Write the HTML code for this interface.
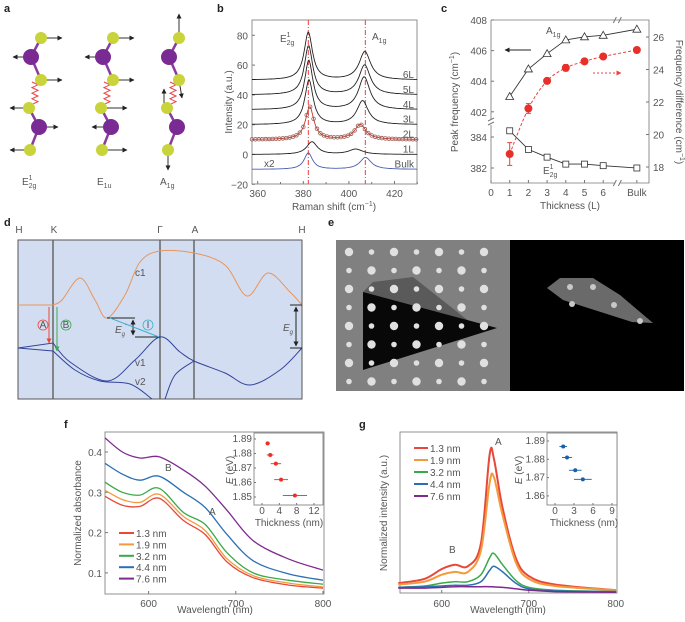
<!DOCTYPE html>
<html><head><meta charset="utf-8"><style>
html,body{margin:0;padding:0;background:#fff;}
svg{display:block;font-family:"Liberation Sans",sans-serif;}
.t{fill:#555;font-size:10px;}
.pl{font-weight:bold;font-size:11px;fill:#222;}
</style></head><body>
<svg id="fig" width="685" height="622" viewBox="0 0 685 622" xmlns="http://www.w3.org/2000/svg">
<text class="pl" x="4" y="12">a</text>
<text class="pl" x="217" y="12">b</text>
<text class="pl" x="441" y="12">c</text>
<text class="pl" x="4" y="226">d</text>
<text class="pl" x="328" y="226">e</text>
<text class="pl" x="64" y="428">f</text>
<text class="pl" x="359" y="428">g</text>
<g id="pa"></g>
<g id="pb"></g>
<g id="pc"></g>
<g id="pd"></g>
<g id="pe"></g>
<g id="pf"></g>
<g id="pg"></g>
</svg>
<script>
// ---------- data ----------
// panel b
const bLayers = ['Bulk','1L','2L','3L','4L','5L','6L'];
const bOffsets = [-10,0,10,20,30,40,50];
const bEPos = [382.2,383.8,382.8,382.5,382.4,382.3,382.2];
const bEAmp = [11,8.5,22,30,33,33,32];
const bAPos = [407.3,403,405,406,406.7,406.9,407];
const bAAmp = [8,3.5,10,16,22,20,19];
// panel c
const cLabels = ['0','1','2','3','4','5','6','Bulk'];
const cX = [1,2,3,4,5,6,7.8];
const cA1g = [403,404.8,405.8,406.7,406.9,407,407.4];
const cE2g = [384.4,383.2,382.7,382.25,382.25,382.15,382.0];
const cDiff = [18.8,21.6,23.3,24.1,24.5,24.8,25.2];
const cDiffErr = [0.7,0.3,0,0.2,0,0,0];
// panel f
const fWl = [550,570,590,612,640,665,690,720,760,800];
const fNames = ['1.3 nm','1.9 nm','3.2 nm','4.4 nm','7.6 nm'];
const fColors = ['#e8473a','#f39a3d','#3aa94a','#2a6fb5','#7d2a8e'];
const fAbs = [
 [0.29,0.268,0.265,0.285,0.23,0.195,0.127,0.088,0.07,0.062],
 [0.305,0.282,0.275,0.295,0.24,0.205,0.135,0.093,0.075,0.065],
 [0.325,0.300,0.293,0.31,0.25,0.22,0.15,0.10,0.082,0.072],
 [0.372,0.345,0.33,0.34,0.30,0.262,0.195,0.13,0.098,0.082],
 [0.435,0.40,0.385,0.388,0.355,0.315,0.255,0.18,0.135,0.107]];
const fThick = [1.3,1.9,3.2,4.4,7.6];
const fE = [1.887,1.879,1.873,1.862,1.851];
const fErr = [0.5,0.8,1.2,1.6,2.8];
// panel g
const gWl = [550,580,600,615,630,645,655,660,670,685,700,730,800];
const gPL = [
 [0.07,0.10,0.17,0.20,0.19,0.35,0.98,0.95,0.60,0.25,0.12,0.06,0.02],
 [0.06,0.08,0.13,0.15,0.15,0.30,0.78,0.82,0.55,0.22,0.10,0.05,0.02],
 [0.04,0.05,0.07,0.08,0.08,0.13,0.25,0.28,0.20,0.09,0.04,0.02,0.01],
 [0.04,0.045,0.05,0.055,0.055,0.08,0.16,0.19,0.15,0.07,0.03,0.015,0.01],
 [0.035,0.035,0.04,0.045,0.045,0.045,0.045,0.043,0.04,0.03,0.02,0.01,0.005]];
const gThick = [1.3,1.9,3.2,4.4];
const gE = [1.887,1.881,1.874,1.869];
const gErr = [0.6,0.8,1.0,1.4];

// ---------- helpers ----------
const NS='http://www.w3.org/2000/svg';
function mk(tag,attrs,parent){const e=document.createElementNS(NS,tag);for(const k in attrs)e.setAttribute(k,attrs[k]);parent.appendChild(e);return e;}
function txt(s,x,y,attrs,parent){const e=mk('text',Object.assign({x:x,y:y,class:'t'},attrs||{}),parent);e.textContent=s;return e;}
function smooth(p){let d='M'+p[0][0].toFixed(1)+','+p[0][1].toFixed(1);for(let i=0;i<p.length-1;i++){const p0=p[i-1]||p[i],p1=p[i],p2=p[i+1],p3=p[i+2]||p2;const c1=[p1[0]+(p2[0]-p0[0])/6,p1[1]+(p2[1]-p0[1])/6],c2=[p2[0]-(p3[0]-p1[0])/6,p2[1]-(p3[1]-p1[1])/6];d+='C'+c1.map(v=>v.toFixed(1))+' '+c2.map(v=>v.toFixed(1))+' '+p2[0].toFixed(1)+','+p2[1].toFixed(1);}return d;}
function poly(p){return 'M'+p.map(q=>q[0].toFixed(1)+','+q[1].toFixed(1)).join('L');}
const G=id=>document.getElementById(id);
const defs=mk('defs',{},G('fig'));
const mkr=mk('marker',{id:'ar',viewBox:'0 0 10 10',refX:9,refY:5,markerWidth:5,markerHeight:5,orient:'auto-start-reverse'},defs);
mk('path',{d:'M0,0L10,5L0,10z',fill:'#222'},mkr);
function marker(id,col){const m=mk('marker',{id:id,viewBox:'0 0 10 10',refX:9,refY:5,markerWidth:5,markerHeight:5,orient:'auto-start-reverse'},defs);mk('path',{d:'M0,0L10,5L0,10z',fill:col},m);}
marker('arR','#e8473a');marker('arG','#3aa94a');marker('arRd','#e8473a');

// ---------- panel a ----------
(function(){
 const g=G('pa');
 const base=[[41,38,'y'],[31,57,'p'],[41,80,'y'],[29,108,'y'],[39,127,'p'],[30,150,'y']];
 const offs=[0,72,138];
 const arrows=[
  [[62,0],[13,1],[62,2],[10,3],[58,4],[10,5]],
  [[62,0],[13,1],[62,2],[55,3],[20,4],[55,5]]];
 offs.forEach((o,c)=>{
  const col=mk('g',{},g);
  
  
  for(let i=0;i<base.length-1;i++){ if(i===2) continue;
   mk('line',{x1:base[i][0]+o,y1:base[i][1],x2:base[i+1][0]+o,y2:base[i+1][1],stroke:'#8a3aa0','stroke-width':2.5},col);}
  const sp=[];for(let k=0;k<=8;k++){sp.push([35+o+(k%2?3:-3),82+k*2.8]);}
  mk('path',{d:poly(sp),stroke:'#e84040',fill:'none','stroke-width':1},col);
  if(c<2){arrows[c].forEach(a=>{const b=base[a[1]];mk('line',{x1:b[0]+o,y1:b[1],x2:a[0]+o,y2:b[1],stroke:'#333','stroke-width':1,'marker-end':'url(#ar)'},col);});}
  else{
   mk('line',{x1:41+o,y1:38,x2:41+o,y2:14,stroke:'#333','stroke-width':1,'marker-end':'url(#ar)'},col);
   mk('line',{x1:41+o,y1:80,x2:44+o,y2:98,stroke:'#333','stroke-width':1,'marker-end':'url(#ar)'},col);
   mk('line',{x1:26+o,y1:108,x2:26+o,y2:89,stroke:'#333','stroke-width':1,'marker-end':'url(#ar)'},col);
   mk('line',{x1:30+o,y1:150,x2:30+o,y2:170,stroke:'#333','stroke-width':1,'marker-end':'url(#ar)'},col);
  }
  base.forEach(b=>{
   const r=b[2]==='p'?8:6;
   const at=mk('circle',{cx:b[0]+o,cy:b[1],r:r,fill:b[2]==='p'?'#7a2a93':'#c8d43a'},col);
   
   
  });
 });
 const l1=txt('E',22,185,{'font-size':11},g);l1.innerHTML='E<tspan dy="-5" font-size="7">1</tspan><tspan dy="8" dx="-4" font-size="7">2g</tspan>';
 
 const l2=txt('',97,185,{'font-size':11},g);l2.innerHTML='E<tspan dy="3" font-size="7">1u</tspan>';
 
 const l3=txt('',160,185,{'font-size':11},g);l3.innerHTML='A<tspan dy="3" font-size="7">1g</tspan>';
 
})();

// ---------- panel b ----------
(function(){
 const g=G('pb');
 const L=252,R=417,T=20,B=184;
 const xb=v=>L+(v-357.5)*2.28, yb=v=>154.5-v*1.49;
 mk('rect',{x:L,y:T,width:R-L,height:B-T,fill:'none',stroke:'#777','stroke-width':0.8},g);
 [-20,0,20,40,60,80].forEach(v=>{
  mk('line',{x1:L,x2:L+3,y1:yb(v),y2:yb(v),stroke:'#777'},g);
  const t=txt(v<0?'\u221220':String(v),L-4,yb(v)+4,{'text-anchor':'end','font-size':11},g);
  
 });
 [360,380,400,420].forEach(v=>{
  mk('line',{x1:xb(v),x2:xb(v),y1:B,y2:B-3,stroke:'#777'},g);
  const t=txt(String(v),xb(v),B+13,{'text-anchor':'middle','font-size':11},g);
  
 });
 [370,390,410,430].forEach(v=>mk('line',{x1:xb(v),x2:xb(v),y1:B,y2:B-2,stroke:'#777'},g));
 const xt=txt('',334,210,{'text-anchor':'middle','font-size':10},g);xt.innerHTML='Raman shift (cm<tspan dy="-4" font-size="7">\u22121</tspan><tspan dy="4">)</tspan>';
 
 const yt=txt('Intensity (a.u.)',0,0,{'text-anchor':'middle','font-size':10,transform:'translate(232,102) rotate(-90)'},g);
 
 [382.2,407.2].forEach(v=>{const d=mk('line',{x1:xb(v),x2:xb(v),y1:T,y2:B,stroke:'#e84040','stroke-width':1,'stroke-dasharray':'5,2,1,2'},g);
  });
 const lor=(v,p,w)=>1/(1+((v-p)/w)**2);
 bLayers.forEach((nm,i)=>{
  const pts=[];
  for(let v=357.5;v<=430;v+=0.5){const y=bOffsets[i]+bEAmp[i]*lor(v,bEPos[i],i===1?2.8:2.2)+bAAmp[i]*lor(v,bAPos[i],i===1?3.8:3.0);pts.push([xb(v),yb(y)]);}
  const col=nm==='Bulk'?'#4a5fb0':(nm==='2L'?'#c0392b':'#222');
  const p=mk('path',{d:poly(pts),fill:'none',stroke:col,'stroke-width':0.9},g);
  
  if(nm==='2L'){for(let k=0;k<pts.length;k+=3){const c=mk('circle',{cx:pts[k][0],cy:pts[k][1],r:1.8,fill:'none',stroke:'#9a5a50','stroke-width':0.8},g);
   }}
  const lt=txt(nm,414,yb(bOffsets[i])-2,{'text-anchor':'end','font-size':10,fill:nm==='Bulk'?'#4a5fb0':'#555'},g);
  
 });
 const x2=txt('x2',264,167,{'font-size':10,fill:'#4a5fb0'},g);
 const pe=txt('',280,42,{'font-size':11},g);pe.innerHTML='E<tspan dy="-5" font-size="7">1</tspan><tspan dy="8" dx="-4" font-size="7">2g</tspan>';
 
 const pa=txt('',372,40,{'font-size':11},g);pa.innerHTML='A<tspan dy="3" font-size="7">1g</tspan>';
 
})();

// ---------- panel c ----------
(function(){
 const g=G('pc');
 const L=491,R=649,T=20,B=183;
 const xc=v=>L+v*18.7;
 const yU=v=>20+(408-v)*15.3, yLo=v=>168-(v-382)*15.5;
 const yl=v=>v>=395?yU(v):yLo(v);
 const yr=v=>37+(26-v)*16.25;
 mk('path',{d:`M${L},${T}H${R}V${B}H${L}V125M${L},119V${T}`,fill:'none',stroke:'#777','stroke-width':0.8},g);
 mk('path',{d:`M${L-3},121l6,-3M${L-3},125l6,-3`,stroke:'#777'},g);
 mk('rect',{x:xc(6.65),y:B-3,width:5,height:6,fill:'#fff'},g);
 mk('path',{d:`M${xc(6.65)-2},${B+3}l3,-6M${xc(6.65)+3},${B+3}l3,-6M${xc(6.65)-2},${T+3}l3,-6M${xc(6.65)+3},${T+3}l3,-6`,stroke:'#777'},g);
 [402,404,406,408,382,384].forEach(v=>{mk('line',{x1:L,x2:L+3,y1:yl(v),y2:yl(v),stroke:'#777'},g);
  const t=txt(String(v),L-4,yl(v)+4,{'text-anchor':'end','font-size':11},g);});
 [18,20,22,24,26].forEach(v=>{mk('line',{x1:R,x2:R-3,y1:yr(v),y2:yr(v),stroke:'#777'},g);
  const t=txt(String(v),R+4,yr(v)+4,{'font-size':11},g);});
 const xpos=[0,1,2,3,4,5,6,7.8];
 cLabels.forEach((s,i)=>{mk('line',{x1:xc(xpos[i]),x2:xc(xpos[i]),y1:B,y2:B-3,stroke:'#777'},g);
  const t=txt(s,xc(xpos[i]),B+13,{'text-anchor':'middle','font-size':11},g);});
 const xt=txt('Thickness (L)',570,209,{'text-anchor':'middle','font-size':10},g);
 const yt=txt('',0,0,{'text-anchor':'middle','font-size':10,transform:'translate(458,102) rotate(-90)'},g);yt.innerHTML='Peak frequency (cm<tspan dy="-4" font-size="7">\u22121</tspan><tspan dy="4">)</tspan>';
 
 const yt2=txt('',0,0,{'text-anchor':'middle','font-size':10,transform:'translate(676,102) rotate(90)'},g);yt2.innerHTML='Frequency difference (cm<tspan dy="-4" font-size="7">\u22121</tspan><tspan dy="4">)</tspan>';
 
 const pA=cX.map((x,i)=>[xc(x),yl(cA1g[i])]), pE=cX.map((x,i)=>[xc(x),yl(cE2g[i])]), pD=cX.map((x,i)=>[xc(x),yr(cDiff[i])]);
 const la=mk('path',{d:poly(pA),fill:'none',stroke:'#333','stroke-width':0.9},g);
 const le=mk('path',{d:poly(pE),fill:'none',stroke:'#333','stroke-width':0.9},g);
 const ld=mk('path',{d:smooth(pD),fill:'none',stroke:'#e84040','stroke-width':1,'stroke-dasharray':'3,2'},g);
 pA.forEach(p=>{const m=mk('path',{d:`M${p[0]},${p[1]-4}l4,7h-8z`,fill:'#fff',stroke:'#333','stroke-width':0.8},g);});
 pE.forEach(p=>{const m=mk('rect',{x:p[0]-3,y:p[1]-3,width:6,height:6,fill:'#fff',stroke:'#333','stroke-width':0.8},g);});
 pD.forEach((p,i)=>{if(cDiffErr[i]>0){const e=mk('path',{d:`M${p[0]},${yr(cDiff[i]+cDiffErr[i])}V${yr(cDiff[i]-cDiffErr[i])}M${p[0]-2.5},${yr(cDiff[i]+cDiffErr[i])}h5M${p[0]-2.5},${yr(cDiff[i]-cDiffErr[i])}h5`,stroke:'#e84040'},g);}
  const m=mk('circle',{cx:p[0],cy:p[1],r:4,fill:'#e8302a'},g);});
 mk('line',{x1:531,y1:50,x2:505,y2:50,stroke:'#222','stroke-width':1,'marker-end':'url(#ar)'},g);
 mk('line',{x1:593,y1:73,x2:621,y2:73,stroke:'#e84040','stroke-width':1,'stroke-dasharray':'2,2','marker-end':'url(#arRd)'},g);
 const a=txt('',546,34,{'font-size':11},g);a.innerHTML='A<tspan dy="3" font-size="7">1g</tspan>';
 const e=txt('',543,174,{'font-size':11},g);e.innerHTML='E<tspan dy="-5" font-size="7">1</tspan><tspan dy="8" dx="-4" font-size="7">2g</tspan>';
})();

// ---------- panel d ----------
(function(){
 const g=G('pd');
 mk('rect',{x:18,y:240,width:284,height:159,fill:'#d3ddf1',stroke:'#555','stroke-width':1},g);
 [53,160,194].forEach(x=>mk('line',{x1:x,x2:x,y1:240,y2:399,stroke:'#666','stroke-width':1.5},g));
 [['H',19],['K',54],['\u0393',160],['A',195],['H',302]].forEach(k=>{const t=txt(k[0],k[1],233,{'text-anchor':'middle','font-size':10},g);});
 const c1=mk('path',{d:'M18,305H53'+smooth([[53,305],[62,300],[80,278],[95,300],[107,318],[125,295],[140,262],[160,251],[194,253],[225,265],[247,296],[268,273],[290,292],[302,305]]).replace(/^M[\d.,]+/,''),fill:'none',stroke:'#e8955a','stroke-width':1},g);
 
 const v1=mk('path',{d:'M18,348L53,343'+smooth([[53,343],[70,362],[107,381],[135,360],[160,337],[180,352],[194,361],[225,373],[250,385],[280,370],[302,348]]).replace(/^M[\d.,]+/,''),fill:'none',stroke:'#334499','stroke-width':1},g);
 
 const v2=mk('path',{d:'M18,348L53,351'+smooth([[53,351],[75,370],[100,381],[130,384],[152,399]]).replace(/^M[\d.,]+/,'')+'M165,399'+smooth([[165,399],[175,375],[194,361]]).replace(/^M[\d.,]+/,''),fill:'none',stroke:'#334499','stroke-width':1},g);
 
 mk('path',{d:'M107,318H135M135,337H160',stroke:'#222',fill:'none'},g);
 mk('line',{x1:133,y1:320,x2:133,y2:335,stroke:'#222','marker-end':'url(#ar)','marker-start':'url(#ar)'},g);
 mk('line',{x1:110,y1:318,x2:159,y2:337,stroke:'#3ab0d0','stroke-width':1},g);
 mk('path',{d:'M290,305H302M290,348H302',stroke:'#222'},g);
 mk('line',{x1:296,y1:307,x2:296,y2:346,stroke:'#222','marker-end':'url(#ar)','marker-start':'url(#ar)'},g);
 mk('line',{x1:49,y1:307,x2:49,y2:343,stroke:'#e8473a','marker-end':'url(#arR)'},g);
 mk('line',{x1:57,y1:307,x2:57,y2:351,stroke:'#3aa94a','marker-end':'url(#arG)'},g);
 [['A',43,'#e8473a'],['B',66,'#3aa94a'],['I',148,'#3ab0d0']].forEach(c=>{
  const k=mk('circle',{cx:c[1],cy:325,r:5,fill:'none',stroke:c[2],'stroke-width':0.8},g);
  txt(c[0],c[1],328,{'text-anchor':'middle','font-size':7,fill:c[2]},g);});
 const e1=txt('',115,333,{'font-size':10,'font-style':'italic'},g);e1.innerHTML='E<tspan dy="3" font-size="6">g</tspan><tspan dy="-8" font-size="6">\u2032</tspan>';
 const e2=txt('',283,331,{'font-size':10,'font-style':'italic'},g);e2.innerHTML='E<tspan dy="3" font-size="6">g</tspan>';
 [['c1',135,276],['v1',135,366],['v2',135,385]].forEach(l=>{const t=txt(l[0],l[1],l[2],{'font-size':9},g);});
})();

// ---------- panel e ----------
(function(){
 const g=G('pe');
 mk('rect',{x:336,y:240,width:174,height:151,fill:'#808080'},g);
 mk('polygon',{points:'373,282 413,277 470,322 420,316 363,292',fill:'#5a5a5a'},g);
 mk('polygon',{points:'363,292 497,328 363,370',fill:'#080808'},g);
 for(let r=0;r<8;r++)for(let c=0;c<7;c++){
  const x=349+c*22.5, y=252+r*18.5, big=(r+c)%2===0;
  const d=mk('circle',{cx:x,cy:y,r:big?4.2:2.8,fill:'#e0e0e0'},g);
  }
 mk('rect',{x:510,y:240,width:174,height:151,fill:'#000'},g);
 const f=mk('polygon',{points:'547,288 560,278 593,278 620,295 653,323 632,322 563,300',fill:'#6a6a6a'},g);
 
 [[570,287],[593,287],[614,305],[572,304],[640,321]].forEach(p=>mk('circle',{cx:p[0],cy:p[1],r:3,fill:'#c8c8c8'},g));
})();

// ---------- panel f ----------
(function(){
 const g=G('pf');
 const L=105,R=324,T=432,B=594;
 const xf=v=>L+(v-550)*0.872, yf=v=>452-(v-0.4)*403;
 mk('rect',{x:L,y:T,width:R-L,height:B-T,fill:'none',stroke:'#777','stroke-width':0.8},g);
 [0.1,0.2,0.3,0.4].forEach(v=>{mk('line',{x1:L,x2:L+3,y1:yf(v),y2:yf(v),stroke:'#777'},g);
  const t=txt(String(v),L-3,yf(v)+4,{'text-anchor':'end','font-size':10},g);});
 [600,700,800].forEach(v=>{mk('line',{x1:xf(v),x2:xf(v),y1:B,y2:B-3,stroke:'#777'},g);
  const t=txt(String(v),xf(v),B+13,{'text-anchor':'middle','font-size':10},g);});
 const xt=txt('Wavelength (nm)',215,613,{'text-anchor':'middle','font-size':10},g);
 const yt=txt('Normalized absorbance',0,0,{'text-anchor':'middle','font-size':10,transform:'translate(81,513) rotate(-90)'},g);
 fAbs.forEach((s,i)=>{const p=mk('path',{d:smooth(fWl.map((w,j)=>[xf(w),yf(s[j])])),fill:'none',stroke:fColors[i],'stroke-width':1.3},g);
  
  mk('line',{x1:119,x2:134,y1:533+i*11.4,y2:533+i*11.4,stroke:fColors[i],'stroke-width':2},g);
  const t=txt(fNames[i],136,537+i*11.4,{'font-size':9.5},g);});
 txt('B',165,471,{'font-size':10},g);txt('A',209,515,{'font-size':10},g);
 const iL=254,iR=323,iT=433,iB=505;
 const xi=v=>262+v*4.33, yi=v=>439+(1.89-v)*1450;
 mk('rect',{x:iL,y:iT,width:iR-iL,height:iB-iT,fill:'#fff',stroke:'#777','stroke-width':0.8},g);
 [1.85,1.86,1.87,1.88,1.89].forEach(v=>{mk('line',{x1:iL,x2:iL+2,y1:yi(v),y2:yi(v),stroke:'#777'},g);
  const t=txt(v.toFixed(2),iL-2,yi(v)+3,{'text-anchor':'end','font-size':8.5},g);});
 [0,4,8,12].forEach(v=>{mk('line',{x1:xi(v),x2:xi(v),y1:iB,y2:iB-2,stroke:'#777'},g);
  const t=txt(String(v),xi(v),iB+9,{'text-anchor':'middle','font-size':8.5},g);});
 const it=txt('Thickness (nm)',289,iB+21,{'text-anchor':'middle','font-size':9},g);
 const iy=txt('',0,0,{'text-anchor':'middle','font-size':9,transform:'translate(233,470) rotate(-90)'},g);iy.innerHTML='<tspan font-style="italic">E</tspan> (eV)';
 fThick.forEach((t,i)=>{mk('line',{x1:xi(t-fErr[i]),x2:xi(t+fErr[i]),y1:yi(fE[i]),y2:yi(fE[i]),stroke:'#e8473a'},g);
  const c=mk('circle',{cx:xi(t),cy:yi(fE[i]),r:2,fill:'#e8302a'},g);});
})();

// ---------- panel g ----------
(function(){
 const g=G('pg');
 const L=400,R=617,T=432,B=593;
 const xg=v=>L+(v-552)*0.87, yg=v=>593-v*141;
 mk('rect',{x:L,y:T,width:R-L,height:B-T,fill:'none',stroke:'#777','stroke-width':0.8},g);
 [600,700,800].forEach(v=>{mk('line',{x1:xg(v),x2:xg(v),y1:B,y2:B-3,stroke:'#777'},g);
  const t=txt(String(v),xg(v),B+14,{'text-anchor':'middle','font-size':10},g);});
 const xt=txt('Wavelength (nm)',508,613,{'text-anchor':'middle','font-size':10},g);
 const yt=txt('Normalized intensity (a.u.)',0,0,{'text-anchor':'middle','font-size':10,transform:'translate(387,513) rotate(-90)'},g);
 gPL.forEach((s,i)=>{const p=mk('path',{d:smooth(gWl.map((w,j)=>[xg(w),yg(s[j])])),fill:'none',stroke:fColors[i],'stroke-width':i<2?2:1.5},g);
  
  mk('line',{x1:414,x2:428,y1:448+i*12,y2:448+i*12,stroke:fColors[i],'stroke-width':2},g);
  const t=txt(fNames[i],430,452+i*12,{'font-size':9.5},g);});
 txt('A',495,445,{'font-size':10},g);txt('B',449,553,{'font-size':10},g);
 const iL=547,iR=617,iT=433,iB=505;
 const xi=v=>555+v*6.33, yi=v=>441+(1.89-v)*1830;
 mk('rect',{x:iL,y:iT,width:iR-iL,height:iB-iT,fill:'#fff',stroke:'#777','stroke-width':0.8},g);
 [1.86,1.87,1.88,1.89].forEach(v=>{mk('line',{x1:iL,x2:iL+2,y1:yi(v),y2:yi(v),stroke:'#777'},g);
  const t=txt(v.toFixed(2),iL-2,yi(v)+3,{'text-anchor':'end','font-size':8.5},g);});
 [0,3,6,9].forEach(v=>{mk('line',{x1:xi(v),x2:xi(v),y1:iB,y2:iB-2,stroke:'#777'},g);
  const t=txt(String(v),xi(v),iB+9,{'text-anchor':'middle','font-size':8.5},g);});
 const it=txt('Thickness (nm)',584,iB+21,{'text-anchor':'middle','font-size':9},g);
 const iy=txt('',0,0,{'text-anchor':'middle','font-size':9,transform:'translate(522,470) rotate(-90)'},g);iy.innerHTML='<tspan font-style="italic">E</tspan> (eV)';
 gThick.forEach((t,i)=>{mk('line',{x1:xi(t-gErr[i]),x2:xi(t+gErr[i]),y1:yi(gE[i]),y2:yi(gE[i]),stroke:'#2a6fb5'},g);
  const c=mk('circle',{cx:xi(t),cy:yi(gE[i]),r:2,fill:'#1a5fa5'},g);});
})();
</script>
</body></html>
